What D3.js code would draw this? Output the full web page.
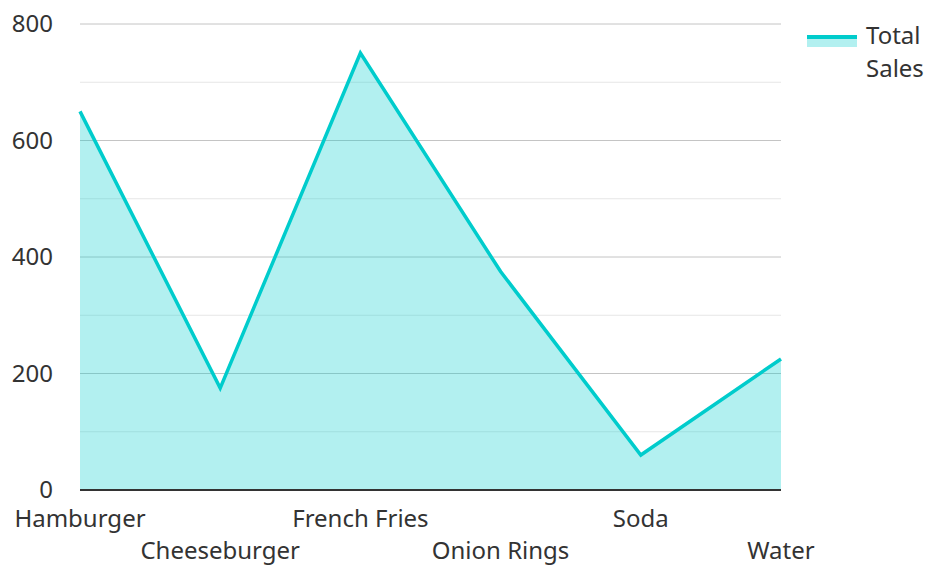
<!DOCTYPE html>
<html>
<head>
<meta charset="utf-8">
<script src="https://cdn.jsdelivr.net/npm/d3@7"></script>
<style>
  body { margin: 0; background: #fff; }
  text { font-family: "Noto Sans", "Open Sans", sans-serif; fill: #333; }
</style>
</head>
<body>
<div id="chart"></div>
<script>
var svgWidth = 925;
var svgHeight = 565;

// data
var categories = ["Hamburger", "Cheeseburger", "French Fries", "Onion Rings", "Soda", "Water"];
var totalSales = [650, 175, 750, 375, 60, 225];
var yTicks = [0, 200, 400, 600, 800];
var yMinorTicks = [100, 300, 500, 700];
var seriesName = ["Total", "Sales"];

var margin = { top: 24, bottom: 75, right: 144, left: 80 };
var width = svgWidth - margin.left - margin.right;
var height = svgHeight - margin.top - margin.bottom;

var svg = d3.select("#chart")
    .append("svg")
    .attr("width", svgWidth)
    .attr("height", svgHeight);

var chartGroup = svg.append("g")
    .attr("transform", `translate(${margin.left}, ${margin.top})`);

var xScale = d3.scalePoint()
    .domain(categories)
    .range([0, width])
    .padding(0);

var yScale = d3.scaleLinear()
    .domain([0, 800])
    .range([height, 0]);

// grid lines
chartGroup.selectAll("line.minor")
    .data(yMinorTicks)
    .enter()
    .append("line")
    .attr("x1", 0).attr("x2", width)
    .attr("y1", d => yScale(d)).attr("y2", d => yScale(d))
    .attr("stroke", "#e6e6e6")
    .attr("stroke-width", 1);

chartGroup.selectAll("line.major")
    .data(yTicks.filter(d => d > 0))
    .enter()
    .append("line")
    .attr("x1", 0).attr("x2", width)
    .attr("y1", d => yScale(d)).attr("y2", d => yScale(d))
    .attr("stroke", "#c4c4c4")
    .attr("stroke-width", 1);

var dataset = categories.map((c, i) => ({ cat: c, value: totalSales[i] }));

// area
var area = d3.area()
    .x(d => xScale(d.cat))
    .y0(height)
    .y1(d => yScale(d.value));

chartGroup.append("path")
    .datum(dataset)
    .attr("d", area)
    .attr("fill", "#00cccc")
    .attr("fill-opacity", 0.3);

var line = d3.line()
    .x(d => xScale(d.cat))
    .y(d => yScale(d.value));

chartGroup.append("path")
    .datum(dataset)
    .attr("d", line)
    .attr("fill", "none")
    .attr("stroke", "#00cccc")
    .attr("stroke-width", 3.5)
    .attr("stroke-linejoin", "miter");

// y axis
var leftAxis = d3.axisLeft(yScale).tickValues(yTicks).tickSize(0).tickPadding(27);
var yAxis = chartGroup.append("g").call(leftAxis);
yAxis.select(".domain").remove();
yAxis.selectAll("text")
    .style("font-size", "24px")
    .style("font-family", "'Noto Sans', 'Open Sans', sans-serif")
    .attr("fill", "#444");

// x axis baseline
chartGroup.append("line")
    .attr("x1", 0).attr("x2", width)
    .attr("y1", height).attr("y2", height)
    .attr("stroke", "#333")
    .attr("stroke-width", 2);

// x labels, staggered
chartGroup.selectAll("text.xlabel")
    .data(categories)
    .enter()
    .append("text")
    .classed("xlabel", true)
    .attr("x", d => xScale(d))
    .attr("y", (d, i) => height + (i % 2 === 0 ? 37 : 69))
    .attr("text-anchor", "middle")
    .style("font-size", "24px")
    .text(d => d);

// legend
var legend = svg.append("g")
    .attr("transform", "translate(807, 37)");

legend.append("rect")
    .attr("x", 0).attr("y", 0)
    .attr("width", 50).attr("height", 10)
    .attr("fill", "#00cccc")
    .attr("fill-opacity", 0.3);

legend.append("line")
    .attr("x1", 0).attr("x2", 50)
    .attr("y1", 0).attr("y2", 0)
    .attr("stroke", "#00cccc")
    .attr("stroke-width", 4);

legend.selectAll("text")
    .data(seriesName)
    .enter()
    .append("text")
    .attr("x", 59)
    .attr("y", (d, i) => 7 + i * 33)
    .style("font-size", "24px")
    .text(d => d);
</script>
</body>
</html>
